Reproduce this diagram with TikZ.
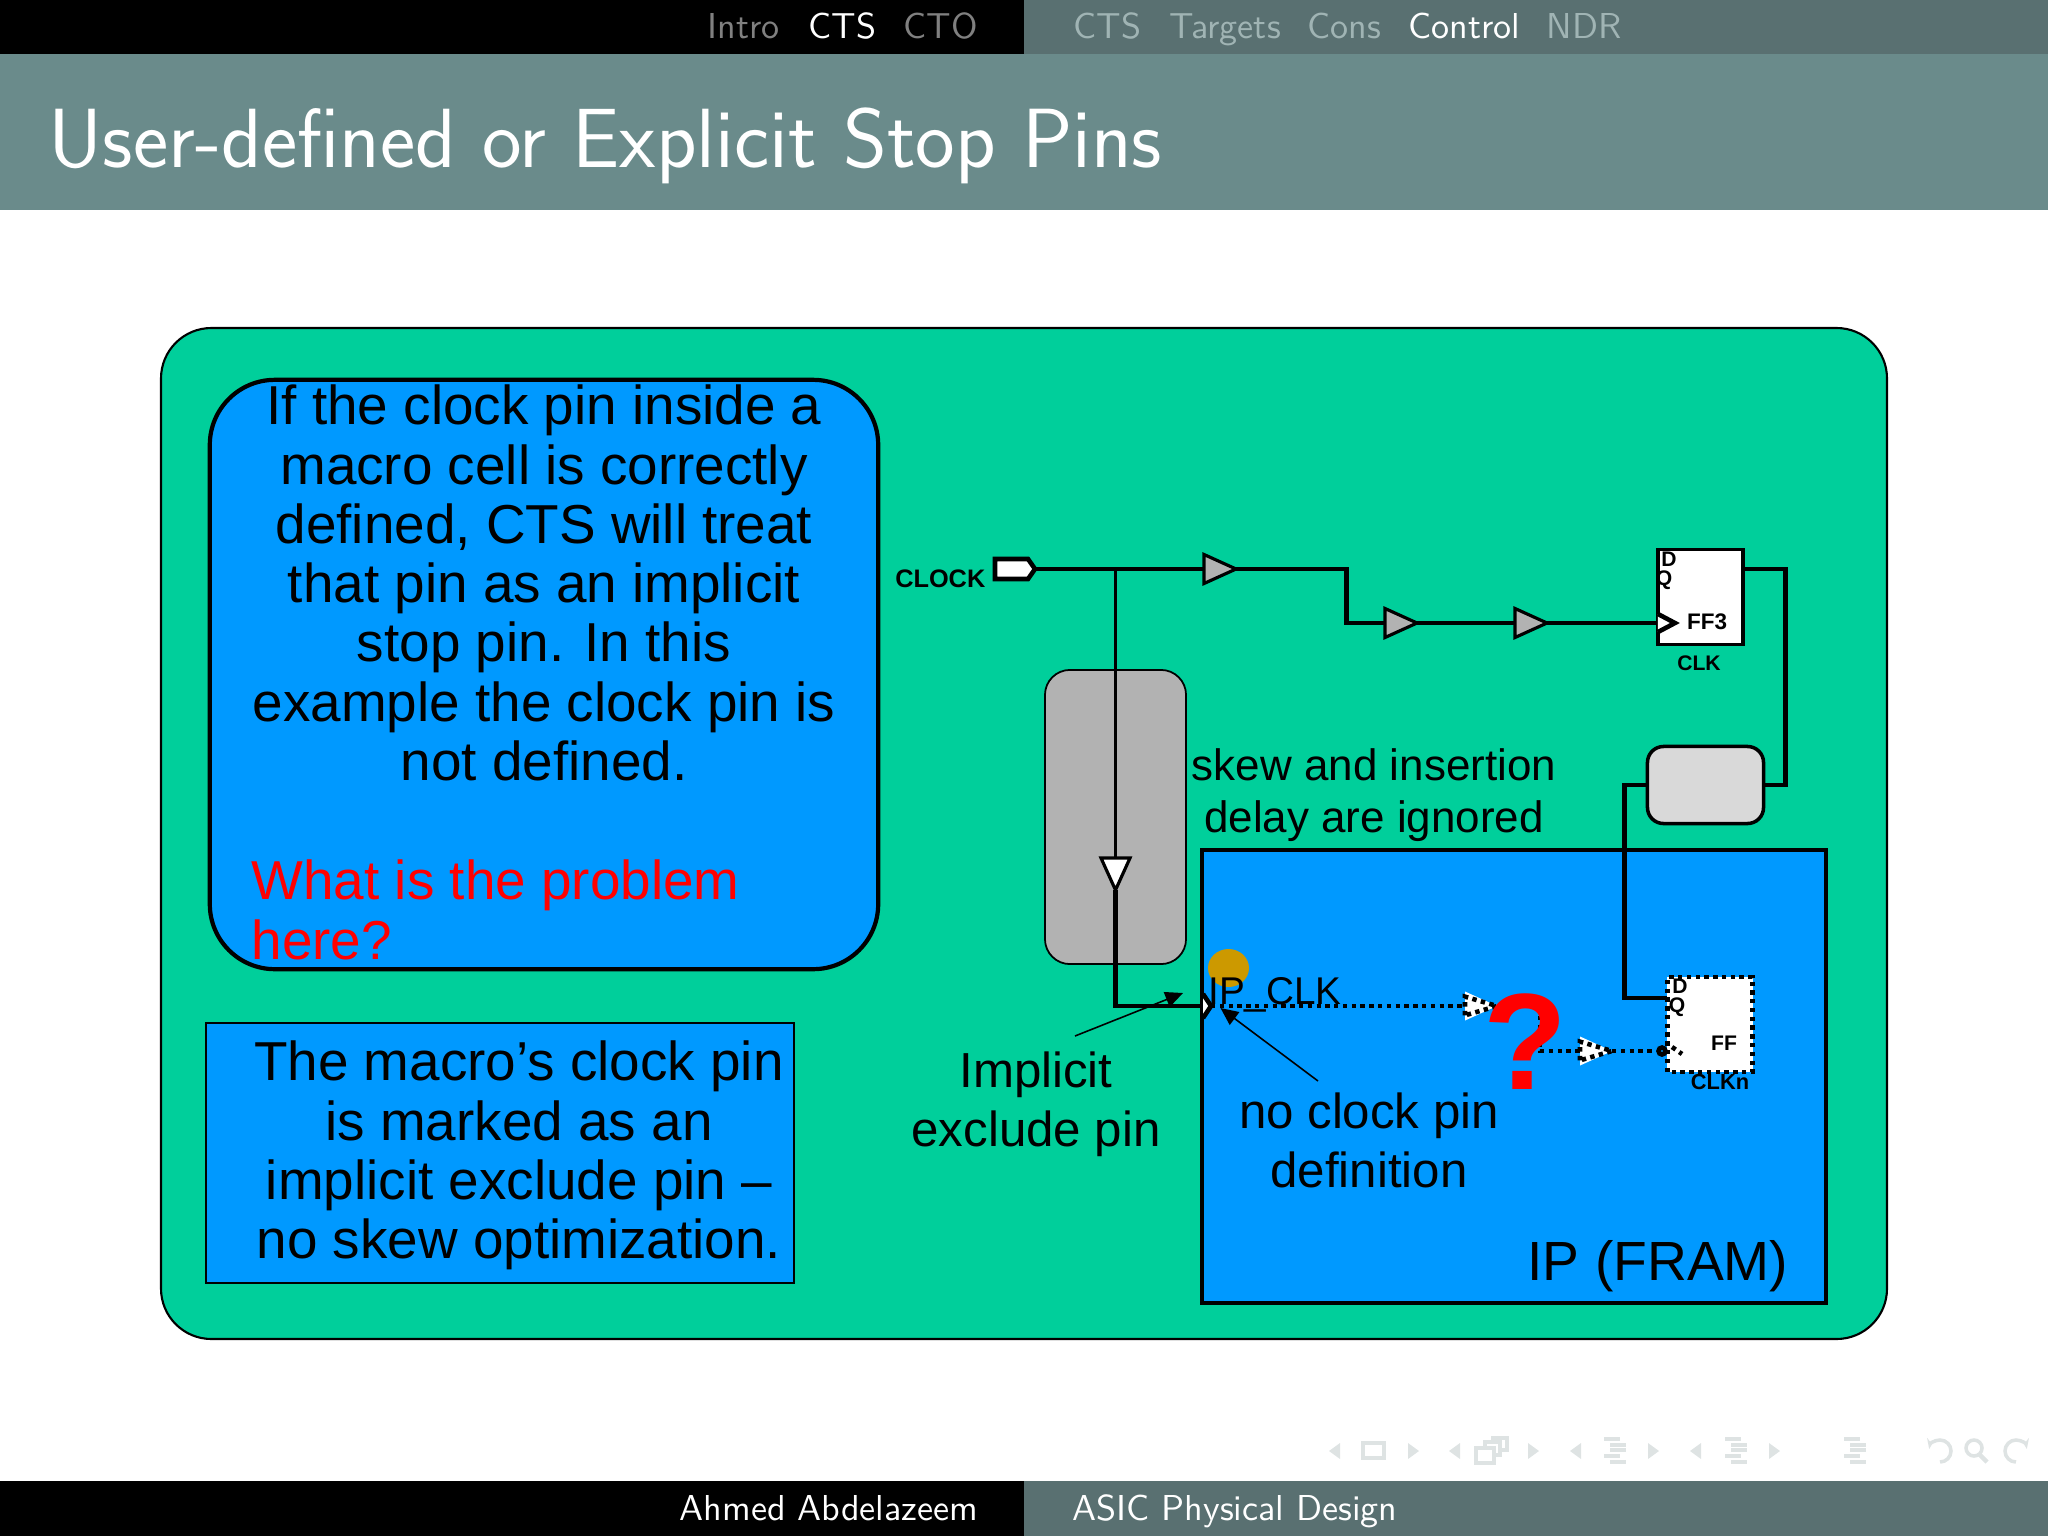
\documentclass[tikz,border=0pt]{standalone}
\usepackage{xcolor}
\usepackage{fontspec}
\setmainfont{Liberation Sans}
\usetikzlibrary{shapes.geometric, arrows.meta, positioning, calc}
\definecolor{myband}{RGB}{106,139,139}
\definecolor{mynav}{RGB}{89,112,113}
\definecolor{mygreen}{RGB}{0,207,155}
\definecolor{myblue}{RGB}{0,153,255}
\definecolor{mygold}{RGB}{204,153,0}
\definecolor{mygray}{RGB}{178,178,178}
\definecolor{mylight}{RGB}{217,217,217}
\definecolor{navoff}{RGB}{128,128,128}
\definecolor{navdim}{RGB}{160,180,180}
\definecolor{myicon}{RGB}{222,227,227}
\tikzset{
  navtext/.style={font=\sffamily\fontsize{10.25}{12}\selectfont, anchor=base west, inner sep=0pt},
  bodytext/.style={font=\fontsize{15.6}{16.85}\selectfont, align=center, inner sep=0pt},
  lbltext/.style={font=\fontsize{14}{16.8}\selectfont, align=center, inner sep=0pt},
  pintext/.style={font=\bfseries\fontsize{6}{6.5}\selectfont, inner sep=0pt},
  wire/.style={line width=1.3pt, color=black},
  dotwire/.style={line width=1.3pt, color=black, dash pattern=on 1.25pt off 1.25pt},
  pointer/.style={line width=0.45pt, color=black, -{Triangle[length=5pt,width=4.5pt]}},
  bufnode/.style={isosceles triangle, isosceles triangle stretches, draw=black, fill=mygray,
    minimum width=0.29cm, minimum height=0.32cm, inner sep=0pt, outer sep=0pt, line width=0.9pt, anchor=west},
  ffbox/.style={rectangle, draw=black, fill=white, minimum width=0.85cm, minimum height=0.95cm,
    inner sep=0pt, outer sep=0pt, line width=1.1pt},
  icon/.style={color=myicon, line width=1pt}
}
\begin{document}
\begin{tikzpicture}[x=0.01cm, y=-0.01cm]
  \useasboundingbox (0,0) rectangle (2048,1536);
  % Slide header
  \fill[black] (0,0) rectangle (1024,54);
  \fill[mynav] (1024,0) rectangle (2048,54);
  \fill[myband] (0,54) rectangle (2048,210);
  \node[navtext, color=navoff] (navintro) at (707,38.5) {Intro};
  \node[navtext, color=white] (navcts) at (808,38.5) {CTS};
  \node[navtext, color=navoff] (navcto) at (903,38.5) {CTO};
  \node[navtext, color=navdim] (navctsb) at (1073,38.5) {CTS};
  \node[navtext, color=navdim] (navtargets) at (1169,38.5) {Targets};
  \node[navtext, color=navdim] (navcons) at (1307,38.5) {Cons};
  \node[navtext, color=white] (navcontrol) at (1408,38.5) {Control};
  \node[navtext, color=navdim] (navndr) at (1546,38.5) {NDR};
  \node[anchor=base west, inner sep=0pt, color=white, font=\sffamily\fontsize{23.9}{28}\selectfont] (title) at (48,167.5) {User-defined or Explicit Stop Pins};

  % Slide footer
  \fill[black] (0,1481) rectangle (1024,1536);
  \fill[mynav] (1024,1481) rectangle (2048,1536);
  \node[navtext, color=white] (author) at (679,1520.5) {Ahmed Abdelazeem};
  \node[navtext, color=white] (course) at (1072,1520.5) {ASIC Physical Design};

  % Navigation symbols
  \foreach \xpos in {1329,1449,1570,1690} {
    \fill[myicon] (\xpos,1451) -- (\xpos+11,1443) -- (\xpos+11,1459) -- cycle;
  }
  \foreach \xpos in {1408,1528,1648,1769} {
    \fill[myicon] (\xpos+11,1451) -- (\xpos,1443) -- (\xpos,1459) -- cycle;
  }
  \draw[icon] (1363,1443) rectangle (1384,1458);
  \draw[icon] (1493,1438) rectangle (1507,1450);
  \draw[icon, fill=white] (1485,1442) rectangle (1500,1455);
  \draw[icon, fill=white] (1476,1448) rectangle (1494,1463);
  \foreach \xpos in {1604,1725,1844} {
    \foreach \ypos/\xoff in {1439/0,1445/6,1450/6,1456/0,1462/6} {
      \draw[icon] (\xpos+\xoff,\ypos) -- (\xpos+\xoff+16,\ypos);
    }
  }
  \draw[icon, -{Stealth[length=3pt]}] (1940,1462) arc (90:-170:11);
  \draw[icon] (1974,1448) circle (8);
  \draw[icon, line width=1.3pt] (1979,1454) -- (1987,1462);
  \draw[icon, -{Stealth[length=3pt]}] (2016,1462) arc (90:350:11);

  % Panel and boxes
  \draw[fill=mygreen, line width=0.6pt, rounded corners=1.4cm*0.36] (161,328) rectangle (1887,1339);
  \node[rectangle, draw=black, fill=myblue, rounded corners=0.65cm, line width=1.2pt, inner sep=0pt,
    minimum width=6.68cm, minimum height=5.89cm] (notebox) at (544,674.5) {};
  \node[rectangle, draw=black, fill=myblue, line width=0.5pt, inner sep=0pt,
    minimum width=5.88cm, minimum height=2.60cm] (macrobox) at (500,1153) {};
  \node[rectangle, draw=black, fill=myblue, line width=1.2pt, inner sep=0pt,
    minimum width=6.24cm, minimum height=4.53cm] (ipbox) at (1514,1076.5) {};
  \node[rectangle, draw=black, fill=mygray, rounded corners=0.25cm, line width=0.5pt, inner sep=0pt,
    minimum width=1.41cm, minimum height=2.94cm] (delaybox) at (1115.5,817) {};
  \node[rectangle, draw=black, fill=mylight, rounded corners=0.16cm, line width=1pt, inner sep=0pt,
    minimum width=1.16cm, minimum height=0.77cm] (gatebox) at (1705.5,785) {};

  % Box texts
  \node[bodytext] (notetext) at (544,583) {If the clock pin inside a\\macro cell is correctly\\defined, CTS will treat\\that pin as an implicit\\stop pin. In this\\example the clock pin is\\not defined.};
  \node[bodytext, color=red, anchor=west, align=left] (question) at (251,910) {What is the problem\\here?};
  \node[bodytext] (macrotext) at (519,1155.5) {The macro’s clock pin\\is marked as an\\implicit exclude pin –\\no skew optimization.};
  \node[lbltext, font=\fontsize{12.5}{14.9}\selectfont] (skewtext) at (1374,795) {skew and insertion\\delay are ignored};
  \node[lbltext] (implicittext) at (1036,1104) {Implicit\\exclude pin};
  \node[lbltext] (nocktext) at (1369,1140.5) {no clock pin\\definition};
  \node[anchor=east, inner sep=0pt, font=\fontsize{15.7}{18}\selectfont] (fram) at (1789,1266) {IP (FRAM)};

  % Clock tree nodes
  \node[rectangle, inner sep=0pt, outer sep=0pt, minimum width=0.4cm, minimum height=0.2cm] (port) at (1015,569) {};
  \draw[wire, fill=white] (port.south west) -- (port.north west) -- ($(port.north east)+(-7,0)$) -- (port.east) -- ($(port.south east)+(-7,0)$) -- cycle;
  \node[pintext, anchor=east, font=\bfseries\fontsize{7.2}{8}\selectfont] (clocklbl) at (986,579) {CLOCK};
  \coordinate (tap) at (1115.5,569);
  \coordinate (ipin) at (1203,1006);
  \coordinate (turnb) at (1346.5,623);
  \node[bufnode] (bufa) at (1204,569) {};
  \node[bufnode] (bufb) at (1385,623) {};
  \node[bufnode] (bufc) at (1515,623) {};
  \node[bufnode, shape border rotate=-90, fill=white, anchor=north] (bufd) at (1115.5,858) {};
  \node[ffbox] (ffthree) at (1700.5,597) {};
  \node[ffbox, draw=none] (ffn) at (1710,1024.5) {};

  % Clock wires
  \draw[wire] (port.east) -- (bufa.west);
  \draw[wire] (bufa.east) -| (turnb) -- (bufb.west);
  \draw[wire] (bufb.east) -- (bufc.west);
  \draw[wire] (bufc.east) -- (ffthree.west |- bufc.east);
  \draw[wire, line width=1.1pt] (tap) -- (bufd.north);
  \draw[wire, line width=1.15pt] (bufd.south) |- (ipin);
  \draw[wire, fill=white] (1203,994) -- (1211,1006) -- (1203,1018);
  \draw[wire] (ffthree.east |- tap) -| ($(gatebox.east)+(20,0)$) -- (gatebox.east);
  \draw[wire] (gatebox.west) -| (1624.5,998) -- (ffn.west |- 1624.5,998);

  % FF3 labels
  \draw[wire, fill=white] (ffthree.west |- bufc.east) ++(0,-9) -- ++(17,9) -- ++(-17,9);
  \node[pintext] (dlbl) at (1669,559) {D};
  \node[pintext] (qlbl) at (1664,580) {Q};
  \node[pintext, font=\bfseries\fontsize{6.4}{7}\selectfont] (ffthreelbl) at (1707,622) {FF3};
  \node[pintext] (clklbl) at (1699,663) {CLK};

  % Missing pin and dotted path
  \fill[mygold] (1228.5,968) ellipse (20.5 and 19);
  \node[inner sep=0pt, font=\fontsize{11}{12}\selectfont] (ipclk) at (1275,995) {IP\_CLK};
  \node[bufnode, fill=white, draw=none] (bufe) at (1465,1006) {};
  \node[bufnode, fill=white, draw=none] (buff) at (1580,1051) {};
  \draw[dotwire] (ipin) ++(8,0) -- (bufe.west);
  \draw[dotwire] (bufe.south west) -- (bufe.north west) -- (bufe.east) -- cycle;
  \draw[dotwire] (bufe.east) -| (1540,1051) -- (buff.west);
  \draw[dotwire] (buff.south west) -- (buff.north west) -- (buff.east) -- cycle;
  \draw[dotwire] (buff.east) -- (1655,1051);
  \draw[dotwire] (ffn.south west) rectangle (ffn.north east);
  \draw[wire] (1662,1051) circle (3.5);
  \draw[dotwire] (1672,1047) -- (1682,1054);
  \node[pintext] (dnlbl) at (1680,986) {D};
  \node[pintext] (qnlbl) at (1677,1007) {Q};
  \node[pintext, font=\bfseries\fontsize{6}{7}\selectfont] (ffnlbl) at (1724,1043) {FF};
  \node[pintext, font=\bfseries\fontsize{6.2}{7}\selectfont] (clknlbl) at (1720,1082) {CLKn};
  \node[inner sep=0pt, text=red, font=\bfseries\fontsize{39}{40}\selectfont] (qmark) at (1525,1042) {?};

  % Pointers
  \coordinate (implicitend) at (1075,1036);
  \coordinate (implicittip) at (1183,993);
  \coordinate (nockend) at (1318,1081);
  \coordinate (nocktip) at (1220.5,1008);
  \draw[pointer] (implicitend) -- (implicittip);
  \draw[pointer] (nockend) -- (nocktip);
\end{tikzpicture}
\end{document}
